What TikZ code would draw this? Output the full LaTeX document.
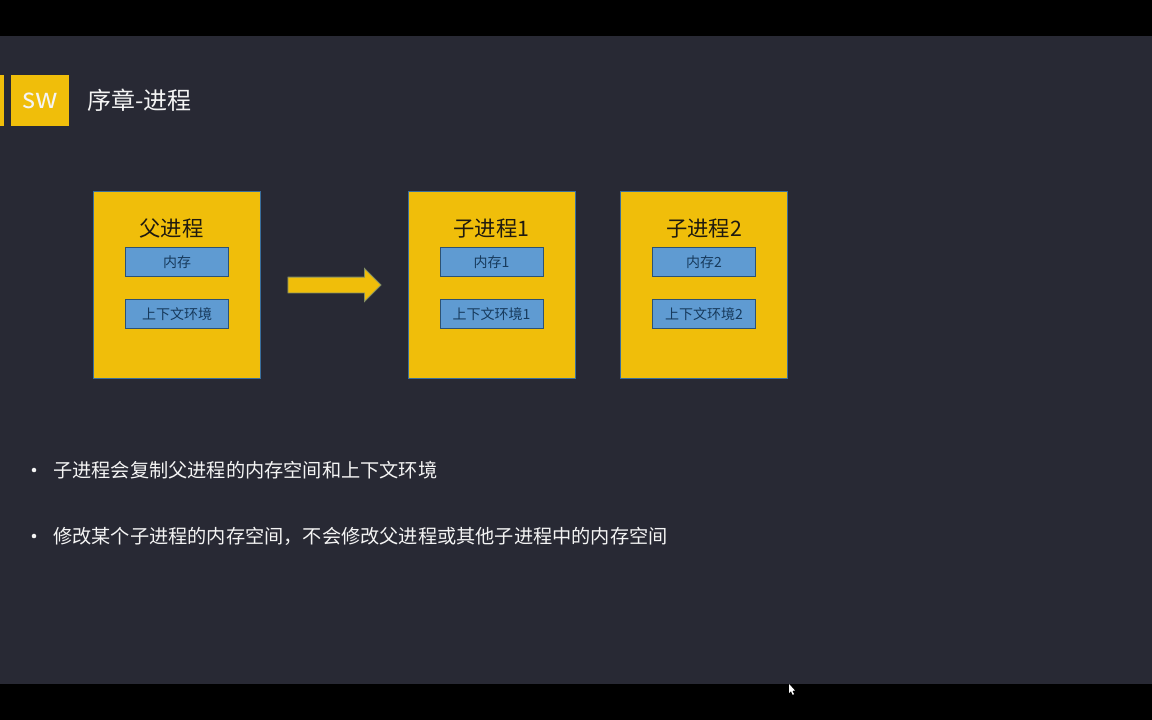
\documentclass[tikz,border=0pt]{standalone}
\usepackage{fontspec}
\setmainfont{Noto Sans CJK SC}
\usetikzlibrary{shapes.arrows}
\definecolor{slidebg}{HTML}{282934}
\definecolor{gold}{HTML}{F0BE0A}
\definecolor{boxblue}{HTML}{5F9BD2}
\definecolor{edgeblue}{HTML}{3A6E9C}
\definecolor{darktxt}{HTML}{1F1A10}
\definecolor{bluetxt}{HTML}{173A5C}
\definecolor{softwhite}{HTML}{F4F4F4}
\newcommand{\lowtxt}[1]{\raisebox{-0.6pt}{#1}}
\tikzset{
  x=0.75pt,y=-0.75pt,
  procbox/.style={draw=edgeblue,line width=0.7pt,fill=gold,minimum width=125.25pt,minimum height=140.6pt,inner sep=0pt,outer sep=0pt},
  proctitle/.style={text=darktxt,font=\fontsize{16}{18}\selectfont,inner sep=0pt},
  memblock/.style={draw=edgeblue!75!black,line width=0.6pt,fill=boxblue,minimum width=77.25pt,minimum height=21.75pt,inner sep=0pt,text=bluetxt,font=\fontsize{10.5}{12}\selectfont},
  bulletline/.style={anchor=west,text=softwhite,font=\fontsize{14.4}{16}\selectfont,inner sep=0pt},
  dot/.style={circle,fill=softwhite,minimum size=3.4pt,inner sep=0pt},
}
\begin{document}
\begin{tikzpicture}
\useasboundingbox (0,0) rectangle (1152,720);
\fill[black] (0,0) rectangle (1152,720);
\fill[slidebg] (0,36.5) rectangle (1152,684);
% header
\fill[gold] (0,75) rectangle (4,126);
\node[fill=gold,minimum width=43.5pt,minimum height=38.25pt,inner sep=0pt,text=softwhite,font=\fontsize{21}{22}\selectfont] (logo) at (40,100.5) {\raisebox{-0.7pt}{sw}};
\node[anchor=west,text=softwhite,font=\fontsize{18}{20}\selectfont,inner sep=0pt] (title) at (87,100.5) {序章-进程};
% parent
\node[procbox] (parent) at (177,285.2) {};
\node[proctitle] (ptitle) at (171.5,228.5) {父进程};
\node[memblock] (pmem) at (177,262) {\lowtxt{内存}};
\node[memblock] (pctx) at (177,314) {\lowtxt{上下文环境}};
% arrow
\node[draw=edgeblue!60!gold,line width=0.7pt,fill=gold,single arrow,single arrow tip angle=90,single arrow head extend=6.4pt,minimum height=69.75pt,inner sep=0pt] (fork) at (330.5,285) {\rule{0pt}{11.25pt}};
% child 1
\node[procbox] (c1) at (491.5,285.2) {};
\node[proctitle] (c1title) at (491.5,228.5) {子进程1};
\node[memblock] (c1mem) at (491.5,262) {\lowtxt{内存1}};
\node[memblock] (c1ctx) at (491.5,314) {\lowtxt{上下文环境1}};
% child 2
\node[procbox] (c2) at (704,285.2) {};
\node[proctitle] (c2title) at (704,228.5) {子进程2};
\node[memblock] (c2mem) at (704,262) {\lowtxt{内存2}};
\node[memblock] (c2ctx) at (704,314) {\lowtxt{上下文环境2}};
% bullets
\node[dot] (d1) at (34,470) {};
\node[bulletline] (b1) at (53,470) {子进程会复制父进程的内存空间和上下文环境};
\node[dot] (d2) at (34,536) {};
\node[bulletline] (b2) at (53,536) {修改某个子进程的内存空间，不会修改父进程或其他子进程中的内存空间};
% cursor
\fill[white] (789,684) -- (789,693) -- (791,691.2) -- (792.6,694.8) -- (794,694.2) -- (792.4,690.8) -- (795,690.6) -- cycle;
\end{tikzpicture}
\end{document}
